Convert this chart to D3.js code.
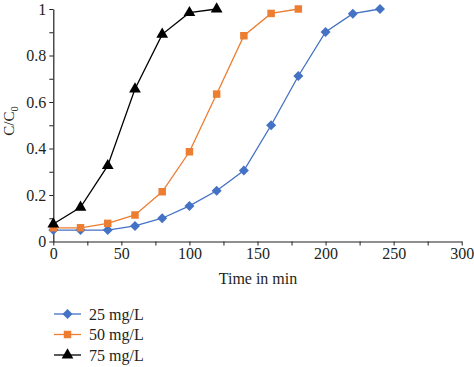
<!DOCTYPE html>
<html><head><meta charset="utf-8">
<script src="https://cdn.jsdelivr.net/npm/d3@7"></script>
<style>body{margin:0;background:#fff}svg{display:block}text{font-family:"Liberation Serif","DejaVu Serif",serif;fill:#231f20}</style>
</head><body>
<svg id="c" width="474" height="367"></svg>
<script>
const time25 = [0,20,40,60,80,100,120,140,160,180,200,220,240];
const val25  = [0.049,0.049,0.049,0.067,0.100,0.153,0.218,0.305,0.500,0.712,0.901,0.980,1.000];
const time50 = [0,20,40,60,80,100,120,140,160,180];
const val50  = [0.059,0.059,0.078,0.114,0.214,0.386,0.634,0.885,0.981,1.000];
const time75 = [0,20,40,60,80,100,120];
const val75  = [0.075,0.147,0.326,0.656,0.891,0.984,1.000];
const seriesNames = ["25 mg/L","50 mg/L","75 mg/L"];
const xTickLabels = [0,50,100,150,200,250,300];
const yTickLabels = [0,0.2,0.4,0.6,0.8,1];

const diamond = {draw(ctx,size){const r=Math.sqrt(size/2);ctx.moveTo(0,-r);ctx.lineTo(r,0);ctx.lineTo(0,r);ctx.lineTo(-r,0);ctx.closePath();}};

const series = [
  {name:seriesNames[0], t:time25, v:val25, color:"#4472C4", sym:diamond, size:50},
  {name:seriesNames[1], t:time50, v:val50, color:"#ED7D31", sym:d3.symbolSquare, size:56},
  {name:seriesNames[2], t:time75, v:val75, color:"#000000", sym:d3.symbolTriangle, size:60}
];

const svg = d3.select("#c");
const x = d3.scaleLinear().domain([0,300]).range([53.3,461.7]);
const y = d3.scaleLinear().domain([0,1]).range([241.5,9]);

const fs = 16;
const ff = '"Liberation Serif","DejaVu Serif",serif';
// x axis
const gx = svg.append("g").attr("transform",`translate(0,${y(0)})`)
  .call(d3.axisBottom(x).tickValues(d3.range(0,301,25)).tickSize(4).tickSizeOuter(0)
    .tickFormat(d => xTickLabels.includes(d) ? d : ""));
gx.attr("font-family",ff).attr("font-size",fs);
gx.select(".domain").attr("stroke","#231f20").attr("stroke-width",1.2);
gx.selectAll(".tick line").attr("stroke","#231f20");
gx.selectAll("text").attr("dy","0.9em").attr("y",3).style("font-family",ff).style("font-size",fs+"px").attr("fill","#231f20");

// y axis
const gy = svg.append("g").attr("transform",`translate(${x(0)},0)`)
  .call(d3.axisLeft(y).tickValues(d3.range(0,11).map(i=>i/10)).tickSize(4).tickSizeOuter(0)
    .tickFormat(d => yTickLabels.some(v=>Math.abs(v-d)<1e-9) ? (d===0?"0":d===1?"1":d3.format(".1f")(d)) : ""));
gy.attr("font-family",ff).attr("font-size",fs);
gy.select(".domain").attr("stroke","#231f20").attr("stroke-width",1.2);
gy.selectAll(".tick line").attr("stroke","#231f20");
gy.selectAll("text").attr("x",-7).style("font-family",ff).style("font-size",fs+"px").attr("fill","#231f20");

// lines & markers
const line = d3.line().x(d=>x(d[0])).y(d=>y(d[1]));
series.forEach(s=>{
  const pts = s.t.map((t,i)=>[t,s.v[i]]);
  svg.append("path").datum(pts).attr("d",line).attr("fill","none")
    .attr("stroke",s.color).attr("stroke-width",1.3);
  svg.append("g").selectAll("path").data(pts).join("path")
    .attr("transform",d=>`translate(${x(d[0])},${y(d[1])})`)
    .attr("d",d3.symbol().type(s.sym).size(s.size)).attr("fill",s.color);
});

// axis titles
svg.append("text").attr("x",258).attr("y",284).attr("text-anchor","middle")
  .attr("font-size",fs).text("Time in min");
const yl = svg.append("text").attr("transform","translate(14,121) rotate(-90)")
  .attr("text-anchor","middle").attr("font-size",15);
yl.append("tspan").text("C/C");
yl.append("tspan").attr("font-size",10.5).attr("dy",4).text("0");

// legend
series.forEach((s,i)=>{
  const ly = 314 + i*20.5;
  const g = svg.append("g");
  g.append("line").attr("x1",54).attr("x2",81).attr("y1",ly).attr("y2",ly)
    .attr("stroke",s.color).attr("stroke-width",1.3);
  g.append("path").attr("transform",`translate(67.5,${ly})`)
    .attr("d",d3.symbol().type(s.sym).size(s.size)).attr("fill",s.color);
  g.append("text").attr("x",89).attr("y",ly).attr("dy","0.35em").attr("font-size",fs).text(s.name);
});
</script>
</body></html>
